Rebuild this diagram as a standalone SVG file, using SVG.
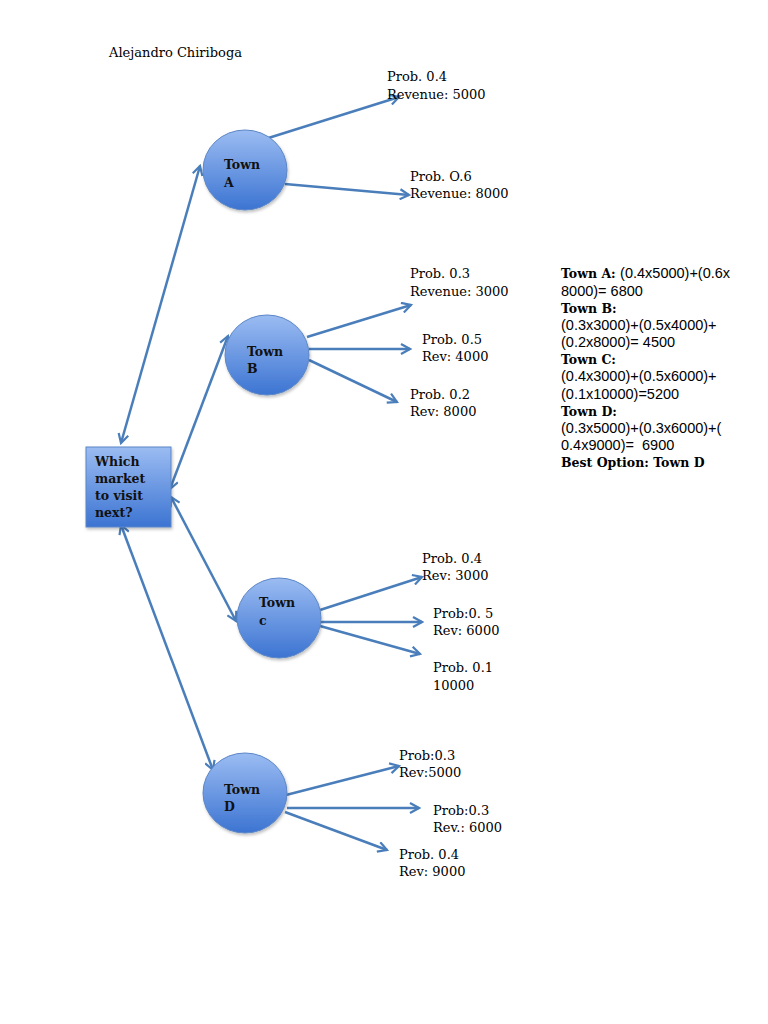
<svg xmlns="http://www.w3.org/2000/svg" width="768" height="1024" viewBox="0 0 768 1024">
<defs>
<linearGradient id="g" x1="0" y1="0" x2="0" y2="1">
<stop offset="0" stop-color="#9bbcf2"/>
<stop offset="1" stop-color="#3c74d2"/>
</linearGradient>
<marker id="ah" viewBox="0 0 12 12" refX="10" refY="6" markerWidth="12" markerHeight="12" markerUnits="userSpaceOnUse" orient="auto-start-reverse">
<path d="M1,1 L10,6 L1,11" fill="none" stroke="#4a7ebb" stroke-width="2.2" stroke-linejoin="miter"/>
</marker>
<filter id="sh" x="-20%" y="-20%" width="140%" height="140%">
<feDropShadow dx="1" dy="2" stdDeviation="1.5" flood-color="#000" flood-opacity="0.25"/>
</filter>
</defs>
<style>
.lbl{font-family:"DejaVu Serif","Liberation Serif",serif;font-size:13px;fill:#000}
.nd{font-family:"DejaVu Serif","Liberation Serif",serif;font-size:12.5px;font-weight:bold;fill:#111}
.c{stroke:#4a7ebb;stroke-width:2.5;fill:none;marker-end:url(#ah)}
.b{marker-start:url(#ah)}
.node{fill:url(#g);stroke:#5b86c6;stroke-width:1}
.calc{font-family:"Liberation Sans",Arial,sans-serif;font-size:14.5px;fill:#000}
.cb{font-family:"DejaVu Serif","Liberation Serif",serif;font-size:12.5px;font-weight:bold;fill:#000}
</style>
<rect width="768" height="1024" fill="#fff"/>
<text class="lbl" x="109" y="57">Alejandro Chiriboga</text>

<g id="connectors">
<line class="c b" x1="121" y1="443" x2="200" y2="166"/>
<line class="c b" x1="170" y1="489" x2="228" y2="336"/>
<line class="c b" x1="171" y1="497" x2="236" y2="621"/>
<line class="c b" x1="121" y1="525" x2="213" y2="770"/>
<line class="c" x1="262" y1="140" x2="399" y2="97"/>
<line class="c" x1="285" y1="184" x2="409" y2="195"/>
<line class="c" x1="307" y1="337" x2="411" y2="305"/>
<line class="c" x1="309" y1="349" x2="410" y2="349"/>
<line class="c" x1="309" y1="360" x2="397" y2="402"/>
<line class="c" x1="320" y1="610" x2="422" y2="577"/>
<line class="c" x1="321" y1="622" x2="422" y2="622"/>
<line class="c" x1="320" y1="626" x2="420" y2="654"/>
<line class="c" x1="286" y1="795" x2="399" y2="766"/>
<line class="c" x1="287" y1="808" x2="419" y2="808"/>
<line class="c" x1="285" y1="812" x2="387" y2="850"/>
</g>

<g id="root">
<rect class="node" x="86" y="447" width="85" height="80" filter="url(#sh)"/>
<text class="nd" x="95" y="466">Which</text>
<text class="nd" x="95" y="483">market</text>
<text class="nd" x="95" y="500">to visit</text>
<text class="nd" x="95" y="517">next?</text>
</g>

<g id="townA">
<ellipse class="node" cx="245" cy="170" rx="42" ry="40" filter="url(#sh)"/>
<text class="nd" x="224" y="169">Town</text>
<text class="nd" x="224" y="187">A</text>
</g>
<g id="townB">
<ellipse class="node" cx="267" cy="355" rx="42" ry="40" filter="url(#sh)"/>
<text class="nd" x="247" y="356">Town</text>
<text class="nd" x="247" y="373">B</text>
</g>
<g id="townC">
<ellipse class="node" cx="279" cy="618" rx="42" ry="40" filter="url(#sh)"/>
<text class="nd" x="259" y="607">Town</text>
<text class="nd" x="259" y="625">c</text>
</g>
<g id="townD">
<ellipse class="node" cx="245" cy="793" rx="42" ry="40" filter="url(#sh)"/>
<text class="nd" x="224" y="794">Town</text>
<text class="nd" x="224" y="811">D</text>
</g>

<g id="labelsA">
<text class="lbl" x="387" y="81">Prob. 0.4</text>
<text class="lbl" x="387" y="99">Revenue: 5000</text>
<text class="lbl" x="410" y="181">Prob. O.6</text>
<text class="lbl" x="410" y="198">Revenue: 8000</text>
</g>
<g id="labelsB">
<text class="lbl" x="410" y="278">Prob. 0.3</text>
<text class="lbl" x="410" y="296">Revenue: 3000</text>
<text class="lbl" x="422" y="344">Prob. 0.5</text>
<text class="lbl" x="422" y="361">Rev: 4000</text>
<text class="lbl" x="410" y="399">Prob. 0.2</text>
<text class="lbl" x="410" y="416">Rev: 8000</text>
</g>
<g id="labelsC">
<text class="lbl" x="422" y="563">Prob. 0.4</text>
<text class="lbl" x="422" y="580">Rev: 3000</text>
<text class="lbl" x="433" y="618">Prob:0. 5</text>
<text class="lbl" x="433" y="635">Rev: 6000</text>
<text class="lbl" x="433" y="672">Prob. 0.1</text>
<text class="lbl" x="433" y="690">10000</text>
</g>
<g id="labelsD">
<text class="lbl" x="399" y="760">Prob:0.3</text>
<text class="lbl" x="399" y="777">Rev:5000</text>
<text class="lbl" x="433" y="815">Prob:0.3</text>
<text class="lbl" x="433" y="832">Rev.: 6000</text>
<text class="lbl" x="399" y="859">Prob. 0.4</text>
<text class="lbl" x="399" y="876">Rev: 9000</text>
</g>

<g id="calculations">
<text class="calc" x="561" y="278"><tspan class="cb">Town A: </tspan>(0.4x5000)+(0.6x</text>
<text class="calc" x="561" y="296">8000)= 6800</text>
<text class="cb" x="561" y="313">Town B:</text>
<text class="calc" x="561" y="330">(0.3x3000)+(0.5x4000)+</text>
<text class="calc" x="561" y="347">(0.2x8000)= 4500</text>
<text class="cb" x="561" y="364">Town C:</text>
<text class="calc" x="561" y="381">(0.4x3000)+(0.5x6000)+</text>
<text class="calc" x="561" y="399">(0.1x10000)=5200</text>
<text class="cb" x="561" y="416">Town D:</text>
<text class="calc" x="561" y="433">(0.3x5000)+(0.3x6000)+(</text>
<text class="calc" x="561" y="450">0.4x9000)=&#160; 6900</text>
<text class="cb" x="561" y="467">Best Option: Town D</text>
</g>
</svg>
